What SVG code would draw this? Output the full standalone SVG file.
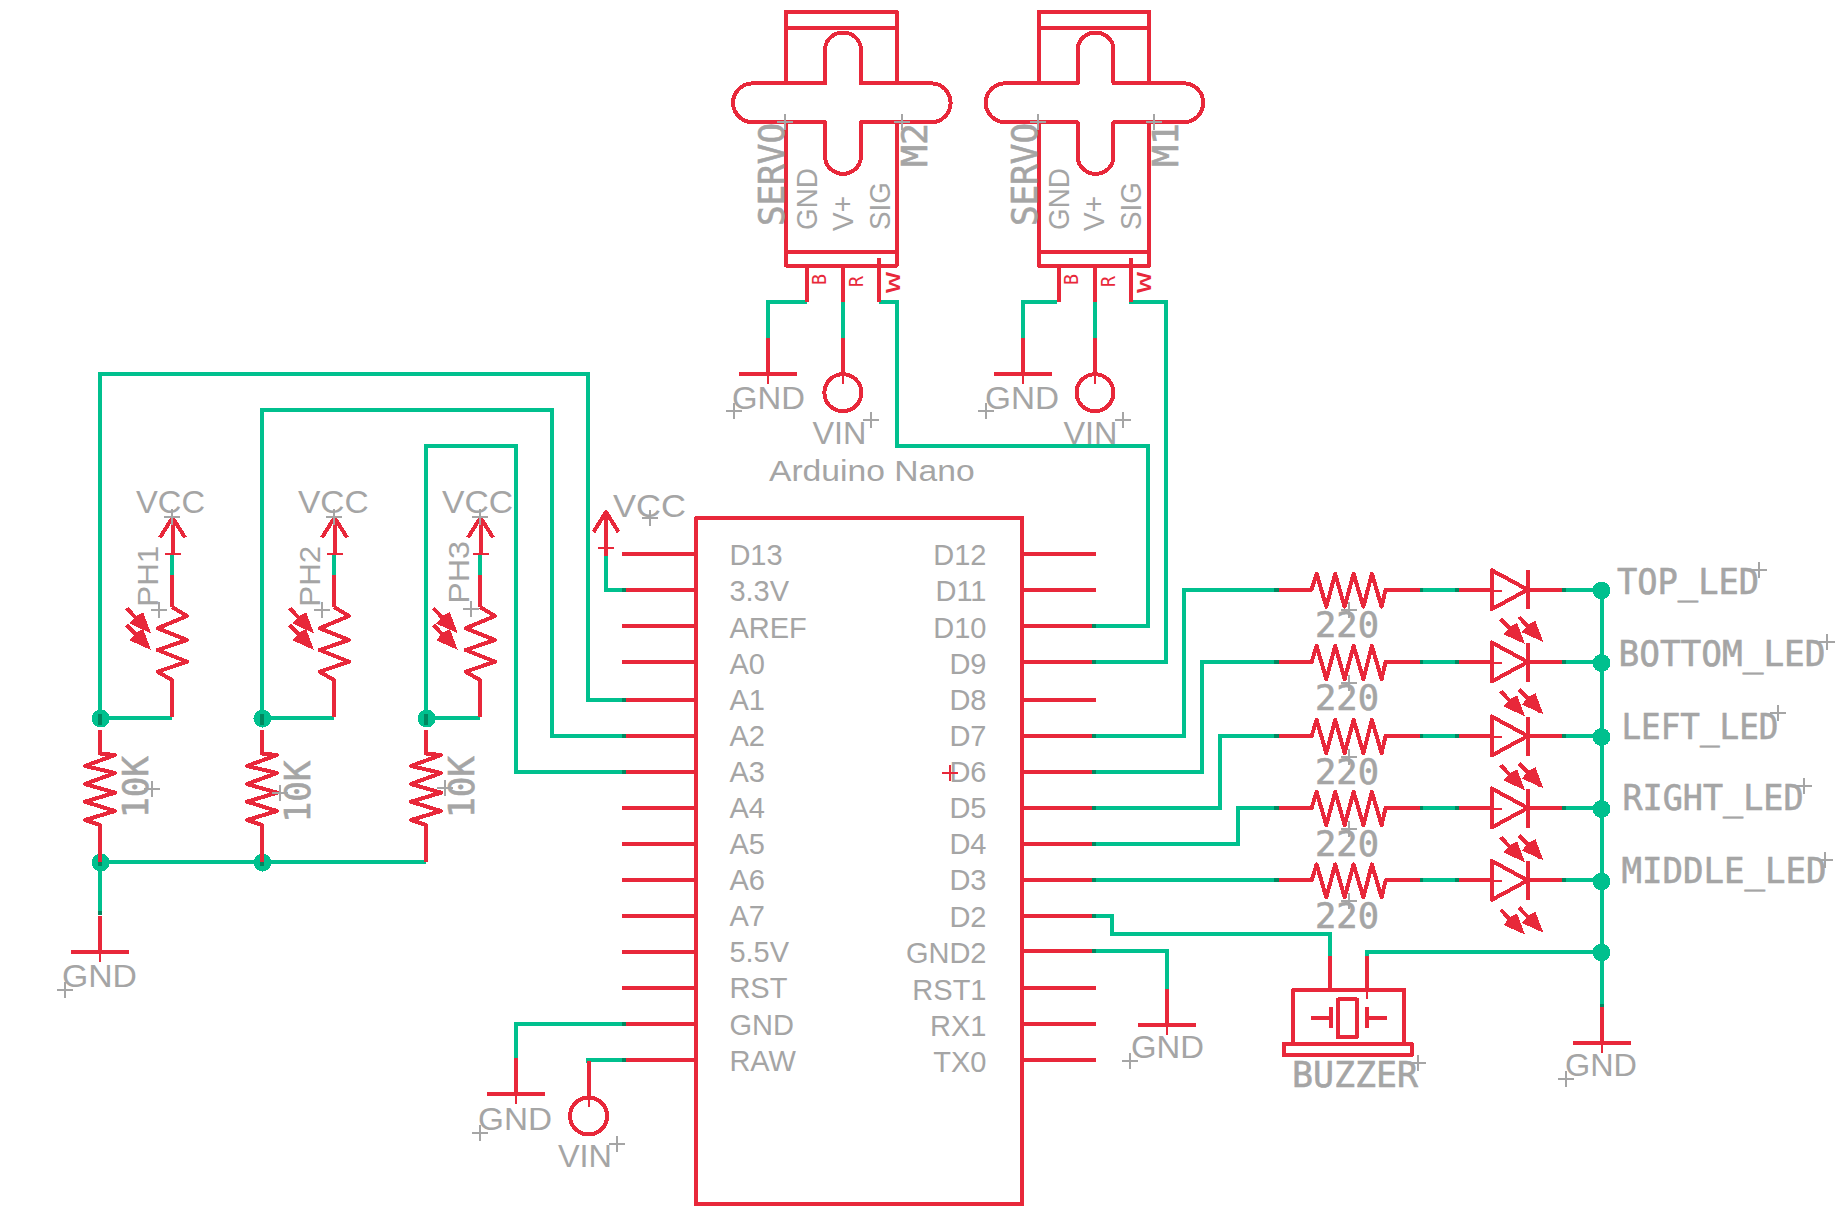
<svg xmlns="http://www.w3.org/2000/svg" width="1842" height="1232" viewBox="0 0 1842 1232">
<style>
.r{fill:none;stroke:#e8283a;stroke-width:4;stroke-linejoin:round;shape-rendering:crispEdges}
.w{fill:none;stroke:#00c08e;stroke-width:4;shape-rendering:crispEdges}
.o{fill:none;stroke:#00875f;stroke-width:4;shape-rendering:crispEdges}
.t{fill:none;stroke:#a5a5a5;stroke-width:2;shape-rendering:crispEdges}
.rt{fill:none;stroke:#e8283a;stroke-width:2;shape-rendering:crispEdges}
.f{fill:#e8283a;stroke:#e8283a;stroke-width:1.5;shape-rendering:crispEdges}
.j{fill:#00c08e;shape-rendering:crispEdges}
text{fill:#a5a5a5}
.s{font-family:"Liberation Sans",Arial,sans-serif;font-size:29px}
.b{font-family:"Liberation Sans",Arial,sans-serif;font-size:31px}
.m{font-family:"DejaVu Sans Mono","Liberation Mono",monospace;font-size:35px;stroke:#a5a5a5;stroke-width:.6}
.l{font-family:"DejaVu Sans Mono","Liberation Mono",monospace;font-size:20px;fill:#e8283a}
.e{text-anchor:end}
</style>
<defs>
<path id="x" class="t" d="M-8,0H8M0,-8V8"/>
<path id="xr" class="rt" d="M-8,0H8M0,-8V8"/>
<g id="gnd"><path class="r" d="M0,-36V0M-29,0H29"/><path class="rt" d="M0,0V10"/></g>
<g id="vin"><path class="r" d="M0,-55V-18"/><circle class="r" r="18.500"/><path class="rt" d="M0,-18V-9"/></g>
<g id="vcc"><path class="r" d="M0,0V36M-12.500,20L0,0L12.500,20"/><path class="rt" d="M-8,36H8"/></g>
<path id="zv" class="r" d="M0,0V23.500L15,25L-15,36L15,43L-15,54L15,62.700L-15,71.700L15,81L-15,90L0,95V132"/>
<path id="zp" class="r" d="M0,-3L15,6L-14.400,18.300L15,30L-14.400,40L15,51.700L-14.400,61.700L0,70V107"/>
<g id="ray"><path class="r" d="M0,0L21,22"/><path class="f" d="M23,23.500L16,5L10,8L4,15Z"/></g>
<g id="rays"><use href="#ray" x="0" y="0"/><use href="#ray" x="0" y="16.700"/></g>
<g id="zh"><path class="r" d="M-41,0H-8L-3,-16L6.700,17L15.600,-16L25,17L34,-16L43.800,17L52.300,-16L62,17L66,0H100.500"/></g>
<g id="led"><path class="r" d="M-34,0H-1.300M-1.300,-19.500V19.500L34.700,0ZM34.700,-19.500V19.500M34.700,0H69"/><path class="rt" d="M-1.300,1H8.700"/><use href="#ray" x="7.700" y="29.300"/><use href="#ray" x="26" y="27.300"/></g>
<g id="servo">
<path class="r" d="M0,11.700H110.600V28.300H0ZM0,28.300V83.300M110.600,28.300V83.300M0,122.300V265.700H110.600V122.300M0,252H110.600"/>
<path class="r" d="M-33,83.300H39V48A18,17.300 0 0 1 74.800,48V83.300H145A19.500,19.500 0 0 1 145,122.300H74.800V158A18,17.700 0 0 1 39,158V122.300H-33A20,19.500 0 0 1 -33,83.300Z"/>
<path class="r" d="M20.500,265.700V301.700M56.500,265.700V301.700M92.600,258V301.700"/>
</g>
</defs>

<g id="pins">
<path class="r" d="M622,553.700H696M622,589.700H696M622,626H696M622,662H696M622,700H696M622,736H696M622,772H696M622,808H696M622,844.400H696M622,880.400H696M622,916.400H696M622,952H696M622,988.300H696M622,1024.300H696M622,1060.300H696"/>
<path class="r" d="M1022,553.700H1096M1022,589.700H1096M1022,626H1096M1022,662H1096M1022,700H1096M1022,736H1096M1022,772H1096M1022,808H1096M1022,844.400H1096M1022,880.400H1096M1022,915.500H1096M1022,951H1096M1022,988.300H1096M1022,1024.300H1096M1022,1060.300H1096"/>
</g>

<g id="connectors">
<path class="w" d="M622,700H587.800V374H100V718"/>
<path class="w" d="M622,736H551.800V410H262V718"/>
<path class="w" d="M622,772H516V446H426V718"/>
<path class="w" d="M100,717.500H172M262,717.500H334M426,717.500H480"/>
<path class="w" d="M100,862H426M100,862V915"/>
<path class="w" d="M172,554V575M334,554V575M480,554V575"/>
<path class="w" d="M622,589.700H605.700V556"/>
<path class="w" d="M622,1024.300H515.500V1058"/>
<path class="w" d="M622,1060.300H587.800V1063"/>
<path class="w" d="M806.600,301.700H768.200V339M842.500,301.700V339"/>
<path class="w" d="M878.700,301.700H896.700V445.700H1148V626H1092"/>
<path class="w" d="M1056.700,301.700H1022.500V339M1095.200,301.700V339"/>
<path class="w" d="M1129.200,301.700H1165.500V662H1092"/>
<path class="w" d="M1092,736H1183.500V589.700H1279"/>
<path class="w" d="M1092,772H1202V662H1279"/>
<path class="w" d="M1092,808H1219.500V736H1279"/>
<path class="w" d="M1092,844.400H1237.500V808H1279"/>
<path class="w" d="M1092,880.400H1279"/>
<path class="w" d="M1092,915.500H1112V933.500H1330.300V956"/>
<path class="w" d="M1092,951H1167V990"/>
<path class="w" d="M1366.600,956V951.500H1601.500"/>
<path class="w" d="M1419.500,589.700H1459M1419.500,662H1459M1419.500,736H1459M1419.500,808H1459M1419.500,880.400H1459"/>
<path class="w" d="M1562,589.700H1601.500M1562,662H1601.500M1562,736H1601.500M1562,808H1601.500M1562,880.400H1601.500"/>
<path class="w" d="M1601.500,589.700V1008"/>
<g class="j"><circle cx="100.700" cy="718.500" r="9"/><circle cx="262.500" cy="718.500" r="9"/><circle cx="426.700" cy="718.500" r="9"/><circle cx="100.700" cy="862.500" r="9"/><circle cx="262.500" cy="862.500" r="9"/><circle cx="1601.500" cy="590.500" r="9"/><circle cx="1601.500" cy="663" r="9"/><circle cx="1601.500" cy="737" r="9"/><circle cx="1601.500" cy="809" r="9"/><circle cx="1601.500" cy="881.500" r="9"/><circle cx="1601.500" cy="952.500" r="9"/></g>
<path class="o" d="M100,714V725M262,714V725M426,714V725M100,855V866M262,855V866M100,911V915M1274,589.700H1279M1274,662H1279M1274,736H1279M1274,808H1279M1274,880.400H1279M1419.500,589.700H1423M1419.500,662H1423M1419.500,736H1423M1419.500,808H1423M1419.500,880.400H1423M1455,589.700H1459M1455,662H1459M1455,736H1459M1455,808H1459M1455,880.400H1459M1562,589.700H1566M1562,662H1566M1562,736H1566M1562,808H1566M1562,880.400H1566M1601.500,1004V1008M622,700H626M622,736H626M622,772H626M622,1024.300H626M622,1060.300H626M622,589.700H626M1092,626H1096M1092,662H1096M1092,736H1096M1092,772H1096M1092,808H1096M1092,844.400H1096M1092,880.400H1096M1092,915.500H1096M1092,951H1096"/>
</g>

<g id="U1">
<rect class="r" x="696" y="518" width="326.400" height="686"/>
<text class="s" x="729.400" y="565.400">D13</text>
<text class="s" x="729.400" y="601.400">3.3V</text>
<text class="s" x="729.400" y="637.900">AREF</text>
<text class="s" x="729.400" y="673.800">A0</text>
<text class="s" x="729.400" y="710.300">A1</text>
<text class="s" x="729.400" y="746">A2</text>
<text class="s" x="729.400" y="782">A3</text>
<text class="s" x="729.400" y="818">A4</text>
<text class="s" x="729.400" y="854">A5</text>
<text class="s" x="729.400" y="890">A6</text>
<text class="s" x="729.400" y="926">A7</text>
<text class="s" x="729.400" y="961.700">5.5V</text>
<text class="s" x="729.400" y="998">RST</text>
<text class="s" x="729.400" y="1035">GND</text>
<text class="s" x="729.400" y="1071">RAW</text>
<text class="s e" x="986.500" y="565.400">D12</text>
<text class="s e" x="986.500" y="601.400">D11</text>
<text class="s e" x="986.500" y="637.900">D10</text>
<text class="s e" x="986.500" y="673.800">D9</text>
<text class="s e" x="986.500" y="710.300">D8</text>
<text class="s e" x="986.500" y="746">D7</text>
<text class="s e" x="986.500" y="782">D6</text>
<text class="s e" x="986.500" y="818">D5</text>
<text class="s e" x="986.500" y="854">D4</text>
<text class="s e" x="986.500" y="890">D3</text>
<text class="s e" x="986.500" y="927">D2</text>
<text class="s e" x="986.500" y="963">GND2</text>
<text class="s e" x="986.500" y="1000">RST1</text>
<text class="s e" x="986.500" y="1036">RX1</text>
<text class="s e" x="986.500" y="1072">TX0</text>
<use href="#xr" x="949.800" y="773"/>
<text class="s" x="769" y="481" textLength="205.600" lengthAdjust="spacingAndGlyphs">Arduino Nano</text>
</g>

<g id="M2">
<use href="#servo" x="786.100" y="0"/>
<text class="m" transform="translate(784,226) rotate(-90)" textLength="103" lengthAdjust="spacingAndGlyphs">SERVO</text>
<text class="m" transform="translate(927,167) rotate(-90)" textLength="44" lengthAdjust="spacingAndGlyphs">M2</text>
<text class="s" transform="translate(817,230) rotate(-90)" textLength="62" lengthAdjust="spacingAndGlyphs">GND</text>
<text class="s" transform="translate(852.500,231) rotate(-90)" textLength="35" lengthAdjust="spacingAndGlyphs">V+</text>
<text class="s" transform="translate(889.500,230) rotate(-90)" textLength="48" lengthAdjust="spacingAndGlyphs">SIG</text>
<text class="l" transform="translate(826,285) rotate(-90)" textLength="11" lengthAdjust="spacingAndGlyphs">B</text>
<text class="l" transform="translate(863,287) rotate(-90)" textLength="11" lengthAdjust="spacingAndGlyphs">R</text>
<text class="l" transform="translate(900,293) rotate(-90)" textLength="21" lengthAdjust="spacingAndGlyphs">W</text>
<use href="#x" x="785.400" y="122"/><use href="#x" x="902" y="122"/>
</g>
<g id="M1">
<use href="#servo" x="1038.700" y="0"/>
<text class="m" transform="translate(1036.500,226) rotate(-90)" textLength="103" lengthAdjust="spacingAndGlyphs">SERVO</text>
<text class="m" transform="translate(1178,167) rotate(-90)" textLength="44" lengthAdjust="spacingAndGlyphs">M1</text>
<text class="s" transform="translate(1068.500,230) rotate(-90)" textLength="62" lengthAdjust="spacingAndGlyphs">GND</text>
<text class="s" transform="translate(1104.400,231) rotate(-90)" textLength="35" lengthAdjust="spacingAndGlyphs">V+</text>
<text class="s" transform="translate(1141.400,230) rotate(-90)" textLength="48" lengthAdjust="spacingAndGlyphs">SIG</text>
<text class="l" transform="translate(1078,285) rotate(-90)" textLength="11" lengthAdjust="spacingAndGlyphs">B</text>
<text class="l" transform="translate(1114.500,287) rotate(-90)" textLength="11" lengthAdjust="spacingAndGlyphs">R</text>
<text class="l" transform="translate(1150.500,293) rotate(-90)" textLength="21" lengthAdjust="spacingAndGlyphs">W</text>
<use href="#x" x="1038" y="122"/><use href="#x" x="1154" y="122"/>
</g>

<g id="PH1">
<use href="#vcc" x="172.500" y="517.500"/>
<use href="#zp" x="172" y="610"/><path class="r" d="M172,575V607"/><use href="#rays" x="126.700" y="608.300"/>
<text class="b" x="136" y="513" textLength="69" lengthAdjust="spacingAndGlyphs">VCC</text>
<text class="s" transform="translate(158,606.700) rotate(-90)" textLength="61" lengthAdjust="spacingAndGlyphs">PH1</text>
<use href="#x" x="159" y="610"/><use href="#x" x="172" y="517"/>
</g>
<g id="PH2">
<use href="#vcc" x="334.500" y="517.500"/>
<use href="#zp" x="334" y="610"/><path class="r" d="M334,575V607"/><use href="#rays" x="289.700" y="608.300"/>
<text class="b" x="298" y="513" textLength="70.700" lengthAdjust="spacingAndGlyphs">VCC</text>
<text class="s" transform="translate(320,606.700) rotate(-90)" textLength="61" lengthAdjust="spacingAndGlyphs">PH2</text>
<use href="#x" x="321.700" y="610"/><use href="#x" x="334" y="517"/>
</g>
<g id="PH3">
<use href="#vcc" x="480.500" y="517.500"/>
<use href="#zp" x="480" y="610"/><path class="r" d="M480,575V607"/><use href="#rays" x="433.400" y="608.300"/>
<text class="b" x="442" y="513" textLength="71" lengthAdjust="spacingAndGlyphs">VCC</text>
<text class="s" transform="translate(469,603.700) rotate(-90)" textLength="62.700" lengthAdjust="spacingAndGlyphs">PH3</text>
<use href="#x" x="470.700" y="608.700"/><use href="#x" x="480" y="517"/>
</g>

<g id="R1"><use href="#zv" x="100" y="730"/><text class="m" transform="translate(148,818) rotate(-90)" textLength="62" lengthAdjust="spacingAndGlyphs">10K</text><use href="#x" x="151.700" y="789"/></g>
<g id="R2"><use href="#zv" x="262" y="730"/><text class="m" transform="translate(310,822.500) rotate(-90)" textLength="62" lengthAdjust="spacingAndGlyphs">10K</text><use href="#x" x="280" y="793"/></g>
<g id="R3"><use href="#zv" x="426" y="730"/><text class="m" transform="translate(474,818) rotate(-90)" textLength="62" lengthAdjust="spacingAndGlyphs">10K</text><use href="#x" x="445" y="788"/></g>

<g id="GND1"><use href="#gnd" x="100" y="951.500"/><text class="b" x="62" y="986.500" textLength="75" lengthAdjust="spacingAndGlyphs">GND</text><use href="#x" x="65" y="989.500"/></g>
<g id="GND2"><use href="#gnd" x="515.500" y="1094"/><text class="b" x="478" y="1130" textLength="74" lengthAdjust="spacingAndGlyphs">GND</text><use href="#x" x="479.600" y="1133"/></g>
<g id="GND3"><use href="#gnd" x="768.200" y="374"/><text class="b" x="732" y="409" textLength="73" lengthAdjust="spacingAndGlyphs">GND</text><use href="#x" x="734" y="410.700"/></g>
<g id="GND4"><use href="#gnd" x="1022.500" y="374"/><text class="b" x="985" y="409" textLength="74" lengthAdjust="spacingAndGlyphs">GND</text><use href="#x" x="985.500" y="410.700"/></g>
<g id="GND5"><use href="#gnd" x="1167" y="1024.500"/><text class="b" x="1131" y="1058" textLength="73" lengthAdjust="spacingAndGlyphs">GND</text><use href="#x" x="1130" y="1061"/></g>
<g id="GND6"><use href="#gnd" x="1601.500" y="1043"/><text class="b" x="1565" y="1075.500" textLength="72" lengthAdjust="spacingAndGlyphs">GND</text><use href="#x" x="1566" y="1079"/></g>

<g id="VIN1"><use href="#vin" x="588.600" y="1116"/><text class="b" x="558" y="1167" textLength="54" lengthAdjust="spacingAndGlyphs">VIN</text><use href="#x" x="617" y="1144"/></g>
<g id="VIN2"><use href="#vin" x="842.900" y="392.700"/><text class="b" x="812.500" y="444" textLength="54" lengthAdjust="spacingAndGlyphs">VIN</text><use href="#x" x="871" y="420"/></g>
<g id="VIN3"><use href="#vin" x="1095" y="392.700"/><text class="b" x="1063.500" y="444" textLength="54" lengthAdjust="spacingAndGlyphs">VIN</text><use href="#x" x="1123" y="420"/></g>

<g id="VCC4"><use href="#vcc" x="606" y="512"/><path class="r" d="M605.700,548V556"/><text class="b" x="613" y="517" textLength="73" lengthAdjust="spacingAndGlyphs">VCC</text><use href="#x" x="650" y="518"/></g>

<g id="R4"><use href="#zh" x="1319.600" y="589.700"/><text class="m" x="1315" y="637" textLength="64" lengthAdjust="spacingAndGlyphs">220</text><use href="#x" x="1349" y="610"/></g>
<g id="R5"><use href="#zh" x="1319.600" y="662"/><text class="m" x="1315" y="710" textLength="64" lengthAdjust="spacingAndGlyphs">220</text><use href="#x" x="1349" y="683"/></g>
<g id="R6"><use href="#zh" x="1319.600" y="736"/><text class="m" x="1315" y="784" textLength="64" lengthAdjust="spacingAndGlyphs">220</text><use href="#x" x="1349" y="757"/></g>
<g id="R7"><use href="#zh" x="1319.600" y="808"/><text class="m" x="1315" y="856" textLength="64" lengthAdjust="spacingAndGlyphs">220</text><use href="#x" x="1349" y="829"/></g>
<g id="R8"><use href="#zh" x="1319.600" y="880.400"/><text class="m" x="1315" y="928" textLength="64" lengthAdjust="spacingAndGlyphs">220</text><use href="#x" x="1349" y="901"/></g>

<g id="LED1"><use href="#led" x="1493" y="589.700"/><text class="m" x="1617" y="594" textLength="142" lengthAdjust="spacingAndGlyphs">TOP_LED</text><use href="#x" x="1759" y="570"/></g>
<g id="LED2"><use href="#led" x="1493" y="662"/><text class="m" x="1618.500" y="666" textLength="207" lengthAdjust="spacingAndGlyphs">BOTTOM_LED</text><use href="#x" x="1827" y="641.500"/></g>
<g id="LED3"><use href="#led" x="1493" y="736"/><text class="m" x="1621.500" y="738.500" textLength="157" lengthAdjust="spacingAndGlyphs">LEFT_LED</text><use href="#x" x="1777.500" y="713"/></g>
<g id="LED4"><use href="#led" x="1493" y="808"/><text class="m" x="1622.500" y="810" textLength="181" lengthAdjust="spacingAndGlyphs">RIGHT_LED</text><use href="#x" x="1803.700" y="786"/></g>
<g id="LED5"><use href="#led" x="1493" y="880.400"/><text class="m" x="1621.500" y="883" textLength="205" lengthAdjust="spacingAndGlyphs">MIDDLE_LED</text><use href="#x" x="1825" y="859.500"/></g>

<g id="BUZZER">
<path class="r" d="M1330.300,956V989.700M1366.600,956V989.700"/>
<rect class="r" x="1293.300" y="989.700" width="110.700" height="54"/>
<rect class="r" x="1283.600" y="1044" width="128.200" height="11"/>
<rect class="r" x="1338" y="999.400" width="19" height="37.600"/>
<path class="r" d="M1330.700,1006.600V1028M1310.700,1017.700H1330.700M1366.600,1006.600V1028M1366.600,1017.700H1386.700"/>
<path class="rt" d="M1366.600,989.700V999"/>
<text class="m" x="1292" y="1087.300" textLength="126" lengthAdjust="spacingAndGlyphs">BUZZER</text>
<use href="#x" x="1417.600" y="1063"/>
</g>
</svg>
